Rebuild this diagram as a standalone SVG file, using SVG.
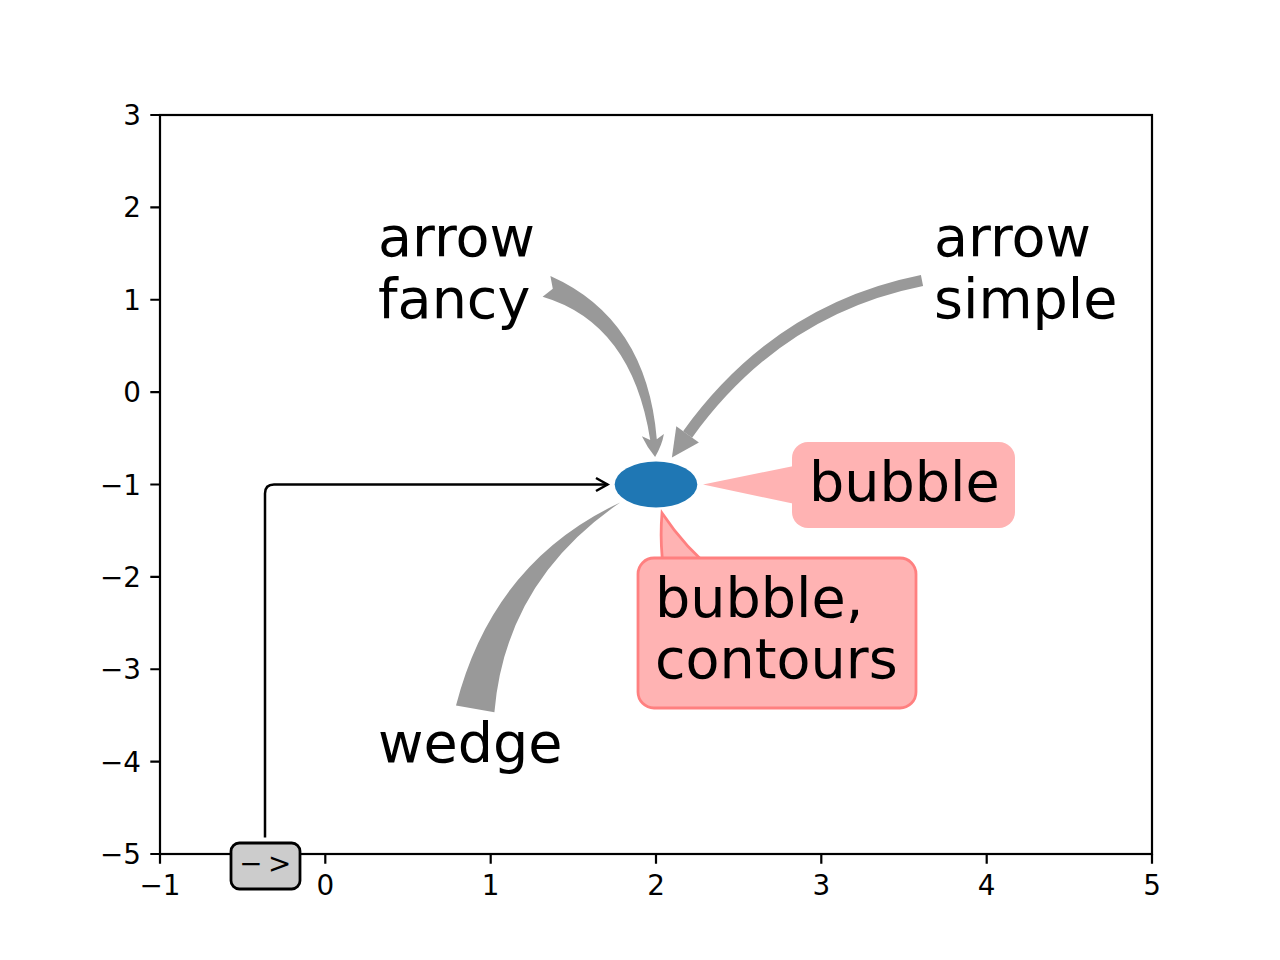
<svg xmlns="http://www.w3.org/2000/svg" width="1280" height="960" viewBox="0 0 1280 960">
<style>
text{font-family:"DejaVu Sans","Liberation Sans",sans-serif;fill:#000}
.tk{stroke:#000;stroke-width:2.2;fill:none}
.tl{font-size:27.8px}
.xl{font-size:27.8px;text-anchor:middle}
.yl{font-size:27.8px;text-anchor:end}
.big{font-size:55.6px}
.gray{fill:#999999;stroke:none}
.pink{fill:#ffb3b3}
.pinke{fill:#ffb3b3;stroke:#ff8080;stroke-width:2.78;stroke-linejoin:miter}
</style>
<rect width="1280" height="960" fill="#fff"/>
<g id="axes">
<rect x="160" y="115" width="992" height="739" class="tk"/>
<path class="tk" d="M160,854V863.7M325.3,854V863.7M490.7,854V863.7M656,854V863.7M821.3,854V863.7M986.7,854V863.7M1152,854V863.7"/>
<path class="tk" d="M160,115H150.3M160,207.4H150.3M160,299.75H150.3M160,392.1H150.3M160,484.5H150.3M160,576.9H150.3M160,669.25H150.3M160,761.6H150.3M160,854H150.3"/>
<text class="xl" x="160" y="895">−1</text>
<text class="xl" x="325.3" y="895">0</text>
<text class="xl" x="490.7" y="895">1</text>
<text class="xl" x="656" y="895">2</text>
<text class="xl" x="821.3" y="895">3</text>
<text class="xl" x="986.7" y="895">4</text>
<text class="xl" x="1152" y="895">5</text>
<text class="yl" x="141" y="125">3</text>
<text class="yl" x="141" y="217.4">2</text>
<text class="yl" x="141" y="309.75">1</text>
<text class="yl" x="141" y="402.1">0</text>
<text class="yl" x="141" y="494.5">−1</text>
<text class="yl" x="141" y="586.9">−2</text>
<text class="yl" x="141" y="679.25">−3</text>
<text class="yl" x="141" y="771.6">−4</text>
<text class="yl" x="141" y="864">−5</text>
</g>
<g id="ellipse">
<ellipse cx="656" cy="484.5" rx="41.3" ry="23.1" fill="#1f77b4"/>
</g>
<g id="connectors">
<path d="M265,837.5V493.5Q265,484.5 274,484.5H607.5" fill="none" stroke="#000" stroke-width="2.5"/>
<path d="M596,478L607.5,484.5L596,491" fill="none" stroke="#000" stroke-width="2.5"/>
<path class="gray" d="M552.8,288.7L550.4,276.0Q646.8,318.8 656.8,439.2L663.9,434.0Q662.1,444.9 655.1,457.0Q646.7,446.6 641.9,436.2L650.2,440.0Q632.0,323.2 542.6,296.8Z"/>
<path d="M922,280.5Q777.5,309.4 687.6,434.4" fill="none" stroke="#999999" stroke-width="11.1"/>
<path class="gray" d="M676.3,426.3L698.9,442.5L671.9,457.6Z"/>
<path class="gray" d="M494.4,712.2Q505.5,580.9 620.2,502.5Q492.7,562.0 456.0,705.6Z"/>
<path class="pink" d="M836.6,457.2L836.6,512.8L703,484.5Z"/>
<path class="pinke" d="M717.4,573.6Q685.8,548.9 662,513Q658.4,556.1 669.8,602.4Z"/>
</g>
<g id="node-arrow-box">
<rect x="231" y="843" width="69" height="46" rx="8.3" fill="#cccccc" stroke="#000" stroke-width="2.78"/>
<text class="tl" x="239.3" y="873.4">−<tspan x="268">&gt;</tspan></text>
</g>
<g id="node-arrow-fancy">
<text class="big" x="378" y="255.5">arrow</text>
<text class="big" x="378" y="317.8">fancy</text>
</g>
<g id="node-arrow-simple">
<text class="big" x="934" y="255.5">arrow</text>
<text class="big" x="934" y="317.8">simple</text>
</g>
<g id="node-wedge">
<text class="big" x="378" y="762.3">wedge</text>
</g>
<g id="node-bubble">
<rect x="792" y="442" width="223" height="86" rx="16" class="pink"/>
<text class="big" x="809" y="501">bubble</text>
</g>
<g id="node-bubble-contours">
<rect x="638" y="558" width="278" height="150" rx="16" class="pinke"/>
<text class="big" x="655" y="617">bubble,</text>
<text class="big" x="655" y="678">contours</text>
</g>
</svg>
